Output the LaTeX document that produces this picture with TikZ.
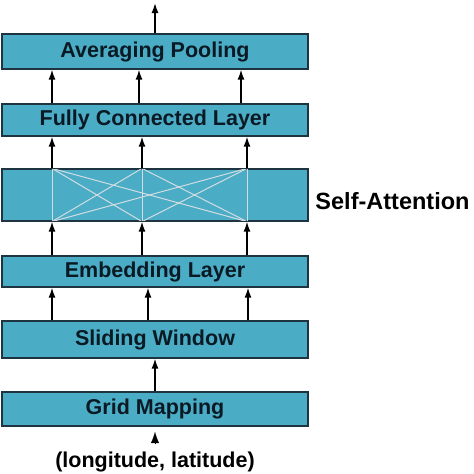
\documentclass[tikz,border=0pt]{standalone}
\usepackage{fontspec}
\setmainfont{Liberation Sans}
\usetikzlibrary{arrows.meta}
\definecolor{boxfill}{HTML}{4BACC6}
\definecolor{boxline}{HTML}{1E3440}
\definecolor{attline}{HTML}{D2DDE2}
\definecolor{txt}{HTML}{0A1A24}
\tikzset{
  layerbox/.style={draw=boxline, line width=1.2pt, fill=boxfill, rectangle, text=txt,
    minimum width=306pt, inner sep=0pt, font=\fontsize{21.5}{24}\selectfont\bfseries},
  arr/.style={-{Latex[length=10pt,width=7pt]}, line width=1.5pt, black},
  attn/.style={attline, line width=1pt},
  lbl/.style={inner sep=0pt, font=\fontsize{21.5}{24}\selectfont\bfseries}
}
\begin{document}
\begin{tikzpicture}[x=1pt,y=-1pt]
\useasboundingbox (0,0) rectangle (474,474);
% boxes
\node[layerbox, minimum height=35pt] (ap) at (155,51.5) {Averaging Pooling};
\node[layerbox, minimum height=32pt] (fc) at (155,120) {Fully Connected Layer};
\node[layerbox, minimum height=52pt] (sa) at (155,195) {};
\node[layerbox, minimum height=31pt] (el) at (155,271.5) {Embedding Layer};
\node[layerbox, minimum height=37pt] (sw) at (155,339.5) {Sliding Window};
\node[layerbox, minimum height=34pt] (gm) at (155,409) {Grid Mapping};
\node[lbl, font=\fontsize{23.5}{26}\selectfont\bfseries] (sal) at (392.5,201) {Self-Attention};
\node[lbl] (inp) at (155,462) {(longitude, latitude)};
% column coordinates
\coordinate (out) at (155,3);
\coordinate (a1) at (52,0); \coordinate (a2) at (139,0); \coordinate (a3) at (241,0);
\coordinate (b1) at (52,0); \coordinate (b2) at (142,0); \coordinate (b3) at (247,0);
\coordinate (d1) at (52,0); \coordinate (d2) at (148,0); \coordinate (d3) at (248,0);
\coordinate (inb) at (155,444);
\coordinate (int) at (155,432);
% attention lines
\coordinate (t1) at (sa.north -| b1); \coordinate (t2) at (sa.north -| b2); \coordinate (t3) at (sa.north -| b3);
\coordinate (s1) at (sa.south -| b1); \coordinate (s2) at (sa.south -| b2); \coordinate (s3) at (sa.south -| b3);
\foreach \u in {t1,t2,t3}{\foreach \v in {s1,s2,s3}{\draw[attn] (\u) -- (\v);}}
\draw[boxline, line width=1.2pt] (sa.north west) rectangle (sa.south east);
% arrows
\draw[arr] (ap.north) -- (out);
\foreach \c in {a1,a2,a3}{\draw[arr] (fc.north -| \c) -- (ap.south -| \c);}
\foreach \c in {b1,b2,b3}{\draw[arr] (sa.north -| \c) -- (fc.south -| \c);}
\foreach \c in {b1,b2,b3}{\draw[arr] (el.north -| \c) -- (sa.south -| \c);}
\foreach \c in {d1,d2,d3}{\draw[arr] (sw.north -| \c) -- (el.south -| \c);}
\draw[arr] (gm.north) -- (sw.south);
\draw[arr, line width=0.1pt, -{Latex[length=11pt,width=8pt]}] (inb) -- (int);
\end{tikzpicture}
\end{document}
